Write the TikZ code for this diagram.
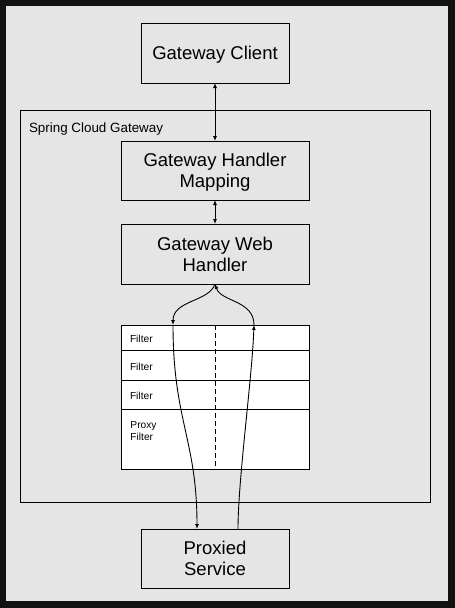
\documentclass[tikz,border=0pt]{standalone}
\usepackage{fontspec}
\setmainfont{Liberation Sans}
\usetikzlibrary{arrows.meta,positioning}

\begin{document}
\begin{tikzpicture}[x=1pt,y=-1pt,>={Latex[length=5pt,width=4pt]},line width=0.9pt,
  main node/.style={rectangle,draw,align=center,inner sep=0pt,outer sep=0pt,text depth=0pt,
    font=\fontsize{18.5}{21}\selectfont},
  filter node/.style={rectangle,draw,fill=white,outer sep=0pt,inner xsep=9pt,text width=170pt,align=left,
    text height=10pt,text depth=0pt,font=\fontsize{10.2}{12}\selectfont},
  filter label/.style={anchor=north west,xshift=9pt,yshift=-12pt,inner sep=0pt,align=left,
    font=\fontsize{10.2}{12}\selectfont}]

  \fill[black!93] (0,0) rectangle (455,608);
  \fill[black!10] (6,6) rectangle (448,601);

  \node[draw,minimum width=410pt,minimum height=392pt] (scg) at (225,306) {};
  \node[anchor=north west,inner sep=0pt,font=\fontsize{13.4}{16}\selectfont] (scglabel)
    at ([xshift=9pt,yshift=-13pt]scg.north west) {Spring Cloud Gateway};

  \node[main node,minimum width=148pt,minimum height=60pt] (client) at (215,53) {Gateway Client};
  \node[main node,minimum width=188pt,minimum height=59pt,below=58pt of client] (map) {Gateway Handler\\Mapping};
  \node[main node,minimum width=188pt,minimum height=60pt,below=24pt of map] (web) {Gateway Web\\Handler};
  \node[filter node,minimum height=25pt,below=41pt of web] (f1) {Filter};
  \node[filter node,minimum height=30pt,below=0pt of f1] (f2) {Filter};
  \node[filter node,minimum height=29pt,below=0pt of f2] (f3) {Filter};
  \node[filter node,minimum height=60pt,below=0pt of f3,label={[filter label]north west:{Proxy\\Filter}}] (f4) {};
  \node[main node,minimum width=148pt,minimum height=59pt,below=60pt of f4] (proxied) {Proxied\\Service};

  \draw[dash pattern=on 5pt off 3pt] (f1.north) -- (f4.south);

  \coordinate (in) at ([xshift=-42pt]f1.north);
  \coordinate (out) at ([xshift=39pt]f1.north);
  \coordinate (down) at ([xshift=-18pt]proxied.north);
  \coordinate (up) at ([xshift=23pt]proxied.north);

  \draw[<->] (client) -- (map);
  \draw[<->] (map) -- (web);
  \draw[->] (web.south) .. controls +(-6,18) and +(0,-25) .. (in);
  \draw[->] (in) .. controls +(0,95) and +(0,-89) .. (down);
  \draw[->] (up) .. controls +(0,-49) and +(-2,54) .. (out);
  \draw[->] (out) .. controls +(0,-25) and +(6,18) .. (web.south);
\end{tikzpicture}
\end{document}
